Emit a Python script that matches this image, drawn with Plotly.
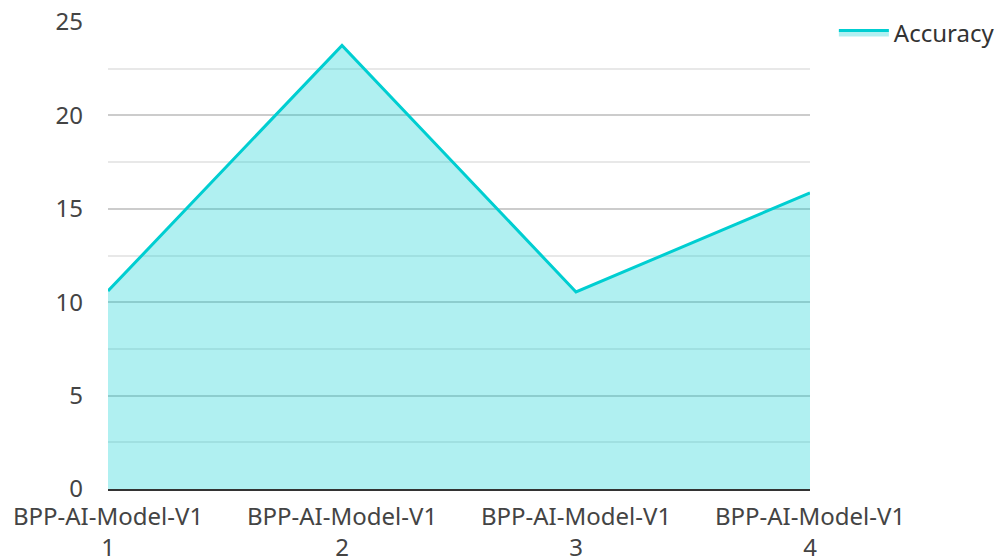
import plotly.graph_objects as go

categories = ["BPP-AI-Model-V1<br>1", "BPP-AI-Model-V1<br>2", "BPP-AI-Model-V1<br>3", "BPP-AI-Model-V1<br>4"]
accuracy = [10.6, 23.75, 10.55, 15.85]
y_ticks = [0, 5, 10, 15, 20, 25]

fig = go.Figure()
fig.add_trace(go.Scatter(
    x=list(range(len(categories))), y=accuracy, name="Accuracy",
    mode="lines", line=dict(color="#00CED1", width=3),
    fill="tozeroy", fillcolor="rgba(0,206,209,0.31)",
))

fig.update_layout(
    width=1000, height=558,
    margin=dict(l=108, r=190, t=22, b=69, autoexpand=False),
    paper_bgcolor="white", plot_bgcolor="white",
    font=dict(family="Noto Sans", size=24, color="#444"),
    showlegend=True,
    legend=dict(x=1.034, y=1.025, xanchor="left", yanchor="top", itemwidth=50,
                font=dict(size=24, color="#333"), bgcolor="rgba(0,0,0,0)"),
    xaxis=dict(
        tickmode="array", tickvals=list(range(len(categories))), ticktext=categories,
        range=[0, 3], showgrid=False, zeroline=False, automargin=False,
        showline=True, linecolor="#333", linewidth=2, ticks="",
        ticklabelstandoff=5, fixedrange=True,
    ),
    yaxis=dict(
        range=[0, 25], tickvals=y_ticks, showgrid=True, gridcolor="#cccccc", gridwidth=1.5,
        zeroline=False, showline=False, ticks="", automargin=False,
        ticklabelstandoff=24,
        minor=dict(dtick=2.5, showgrid=True, gridcolor="#e8e8e8", gridwidth=1.5),
        layer="above traces",
    ),
)

fig.write_html("out.html", config={"displayModeBar": False},
               post_script="document.body.style.margin='0';document.body.style.overflow='hidden';")
